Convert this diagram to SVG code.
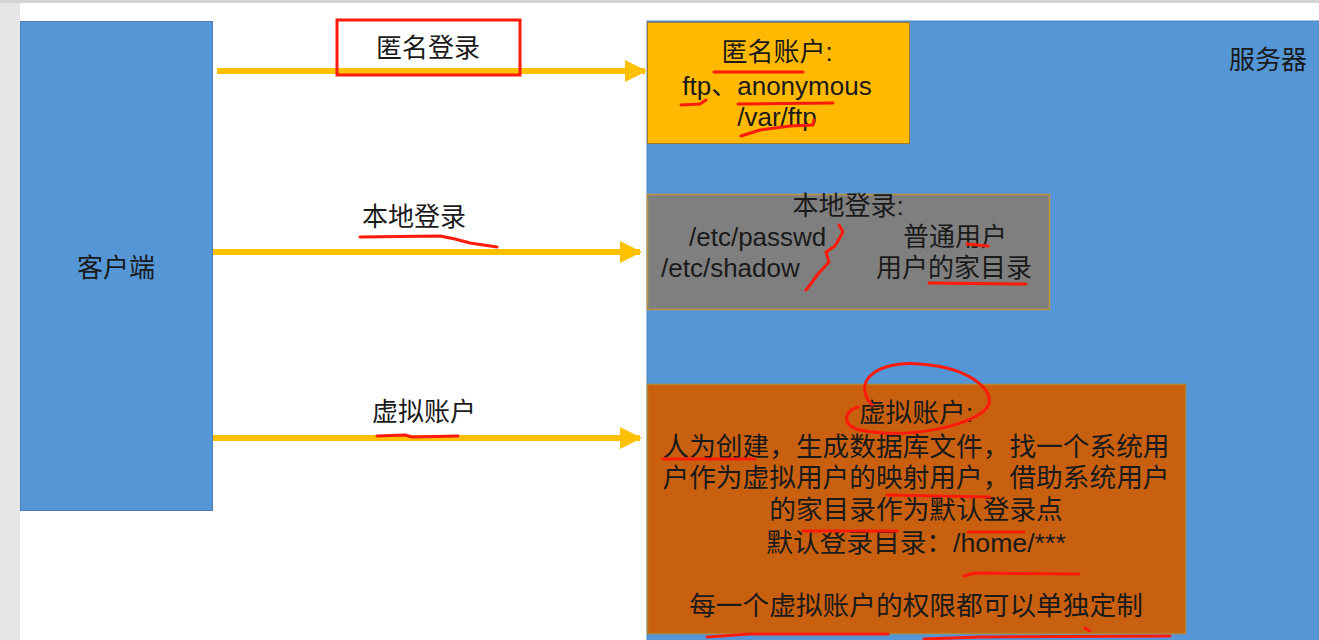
<svg xmlns="http://www.w3.org/2000/svg" width="1319" height="640" viewBox="0 0 1319 640">
<defs>
<style>
.t{font-family:"Liberation Sans","Noto Sans CJK SC",sans-serif;font-size:26px;fill:#1a1a1a}
.o{font-size:26.7px}
.c{text-anchor:middle}
.arr{stroke:#ffc000;stroke-width:6;fill:none}
.red{stroke:#ff1a0a;stroke-width:3;fill:none;stroke-linecap:round;stroke-linejoin:round}
</style>
<marker id="ah" markerWidth="22" markerHeight="22" viewBox="0 0 22 22" refX="20" refY="11" orient="auto" markerUnits="userSpaceOnUse">
<path d="M0,0 L22,11 L0,22 Z" fill="#ffc000"/>
</marker>
</defs>
<rect x="0" y="0" width="1319" height="640" fill="#ffffff"/>
<rect x="0" y="0" width="20" height="640" fill="#e7e7e9"/>
<rect x="0" y="0" width="1319" height="3" fill="#d4d4d6"/>

<g id="server">
<rect x="647" y="21" width="680" height="630" fill="#5596d6" stroke="#4a84bd" stroke-width="1"/>
<text class="t c" x="1268" y="69">服务器</text>
</g>
<g id="client">
<rect x="20.5" y="21.5" width="192" height="489" fill="#5596d6" stroke="#4a7fb5" stroke-width="1"/>
<text class="t c" x="116" y="277">客户端</text>
</g>
<g id="anon">
<rect x="647.5" y="22.5" width="262" height="121" fill="#ffb900" stroke="#a0782a" stroke-width="1"/>
<text class="t c" x="777" y="61">匿名账户:</text>
<text class="t c" x="777" y="95">ftp、anonymous</text>
<text class="t c" x="777" y="126">/var/ftp</text>
</g>
<g id="local">
<rect x="647.5" y="194.5" width="402" height="115" fill="#7f7f7f" stroke="#c0923a" stroke-width="1.5"/>
<text class="t c" x="848" y="215">本地登录:</text>
<text class="t" x="689" y="246">/etc/passwd</text>
<text class="t" x="903" y="246">普通用户</text>
<text class="t" x="661" y="277">/etc/shadow</text>
<text class="t" x="876" y="277">用户的家目录</text>
</g>
<g id="virtual">
<rect x="647.5" y="384.5" width="538" height="249" fill="#c9600f" stroke="#b8822e" stroke-width="1.5"/>
<text class="t o c" x="916" y="422">虚拟账户:</text>
<text class="t o c" x="916" y="456">人为创建，生成数据库文件，找一个系统用</text>
<text class="t o c" x="916" y="487">户作为虚拟用户的映射用户，借助系统用户</text>
<text class="t o c" x="916" y="519">的家目录作为默认登录点</text>
<text class="t o c" x="916" y="552">默认登录目录：/home/***</text>
<text class="t o c" x="916" y="615">每一个虚拟账户的权限都可以单独定制</text>
</g>

<g id="connectors">
<line class="arr" x1="217" y1="71" x2="645" y2="71" marker-end="url(#ah)"/>
<line class="arr" x1="213" y1="252" x2="640" y2="252" marker-end="url(#ah)"/>
<line class="arr" x1="213" y1="438" x2="640" y2="438" marker-end="url(#ah)"/>
<rect x="337" y="20" width="183" height="55" fill="none" stroke="#ff1a0a" stroke-width="3"/>
<text class="t c" x="428" y="57">匿名登录</text>
<text class="t c" x="414" y="226">本地登录</text>
<text class="t c" x="424" y="421">虚拟账户</text>
</g>

<g id="annotations">
<path class="red" d="M360,237 L440,236 L455,239 L470,243 L497,247"/>
<path class="red" d="M377,436 L405,435 L412,437 L458,436"/>
<path class="red" d="M714,72 L803,72"/>
<path class="red" d="M681,105 L700,104 L706,100"/>
<path class="red" d="M738,104 L833,103"/>
<path class="red" d="M741,136 L760,130 L790,126 L813,125 L814,120"/>
<path class="red" d="M839,225 L843,232 L835,246 L826,252 L829,262 L818,274 L810,285 L806,290"/>
<path class="red" d="M967,244 L988,246"/>
<path class="red" d="M929,283 L1026,284"/>
<path class="red" d="M872,405 C850,380 880,360 920,364 C975,368 1000,395 985,410 C970,425 910,440 860,430 C840,425 845,410 858,407"/>
<path class="red" d="M663,459 L755,459"/>
<path class="red" d="M887,495 L990,497"/>
<path class="red" d="M803,531 L897,531"/>
<path class="red" d="M968,532 L1024,532"/>
<path class="red" d="M964,576 L975,573 L1079,574"/>
<path class="red" d="M707,637 L750,634 L888,634"/>
<path class="red" d="M924,639 L980,637 L1170,636"/>
<path class="red" d="M1085,628 L1090,631"/>
</g>
</svg>
